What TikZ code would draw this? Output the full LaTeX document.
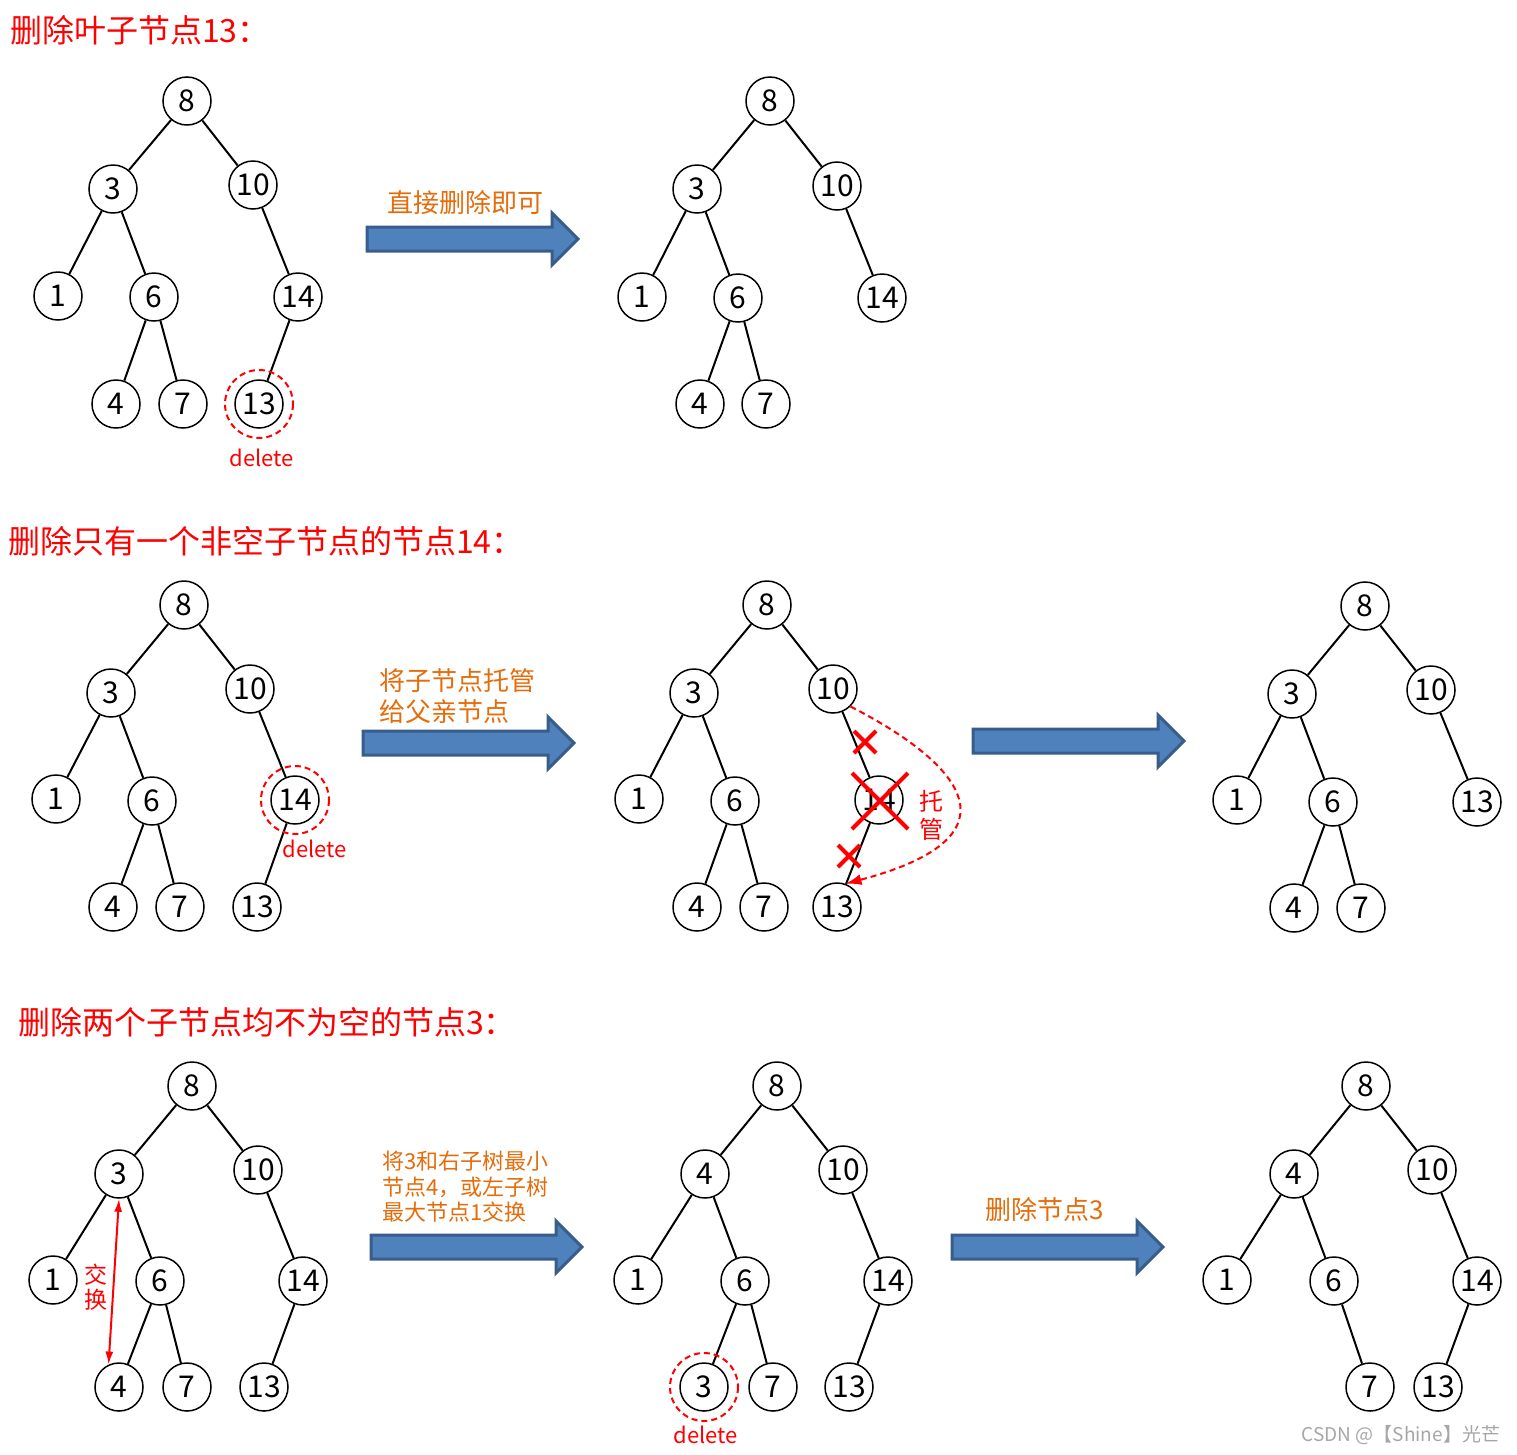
\documentclass[tikz,border=0pt]{standalone}
\usepackage{fontspec}
\setmainfont{Noto Sans CJK SC}
\usetikzlibrary{arrows.meta}
\definecolor{tagorange}{RGB}{228,108,10}
\definecolor{arrowfill}{RGB}{79,129,189}
\definecolor{arrowline}{RGB}{56,93,138}

\tikzset{
  tn/.style={circle,draw,line width=1.5pt,minimum size=48pt,inner sep=0pt,font=\fontsize{30}{30}\selectfont},
  edge/.style={line width=2pt},
  fatarrow/.style={fill=arrowfill,draw=arrowline,line width=3pt,line join=miter},
  title/.style={anchor=west,inner sep=0pt,text=red,font=\fontsize{32}{36}\selectfont},
  tag/.style={text=tagorange,align=left,inner sep=0pt,font=\fontsize{26}{31}\selectfont},
  delring/.style={red,line width=2pt,dash pattern=on 6pt off 4pt},
  deltext/.style={text=red,align=center,inner sep=0pt,font=\fontsize{22}{26}\selectfont},
  cross/.style={red,line width=4pt},
  hand/.style={red,line width=2pt,dash pattern=on 6pt off 4pt,-{Latex[length=16pt,width=11pt]}},
  swap/.style={red,line width=2pt,{Latex[length=13pt,width=8pt]}-{Latex[length=13pt,width=8pt]}},
}

\begin{document}
\begin{tikzpicture}[x=1pt,y=-1pt]
\useasboundingbox (0,0) rectangle (1517,1454);

% titles
\node[title] (t1) at (10,30) {删除叶子节点13：};
\node[title] (t2) at (8,541) {删除只有一个非空子节点的节点14：};
\node[title] (t3) at (18,1022) {删除两个子节点均不为空的节点3：};

% block arrows
\foreach \x/\y in {367/239,363/743,973/741,371/1247,952/1247}
  \draw[fatarrow] (\x,\y-12) -- (\x+185,\y-12) -- (\x+185,\y-26) -- (\x+211,\y)
    -- (\x+185,\y+26) -- (\x+185,\y+12) -- (\x,\y+12) -- cycle;
\node[tag] (l1) at (465,203) {直接删除即可};
\node[tag,anchor=west] (l2) at (379,696) {将子节点托管\\给父亲节点};
\node[tag,anchor=west,font=\fontsize{22}{25.5}\selectfont] (l3) at (382,1187) {将3和右子树最小\\节点4，或左子树\\最大节点1交换};
\node[tag] (l4) at (1045,1210) {删除节点3};

% row 1
\foreach \n/\x/\y in {8/187/101,3/113/189,10/253/185,1/58/296,6/154/297,14/298/297,4/116/404,7/183/404,13/259/404}
  \node[tn] (a\n) at (\x,\y) {\n};
\foreach \p/\c in {8/3,8/10,3/1,3/6,10/14,6/4,6/7,14/13}
  \draw[edge] (a\p) -- (a\c);
\draw[delring] (a13) circle (34);
\node[deltext] (da) at (262,458) {delete};

\foreach \n/\x/\y in {8/770/101,3/697/189,10/837/186,1/642/297,6/738/298,14/882/298,4/700/404,7/766/404}
  \node[tn] (b\n) at (\x,\y) {\n};
\foreach \p/\c in {8/3,8/10,3/1,3/6,10/14,6/4,6/7}
  \draw[edge] (b\p) -- (b\c);

% row 2
\foreach \n/\x/\y in {8/184/605,3/111/693,10/250/689,1/56/799,6/152/801,14/295/800,4/113/907,7/180/907,13/257/907}
  \node[tn] (c\n) at (\x,\y) {\n};
\foreach \p/\c in {8/3,8/10,3/1,3/6,10/14,6/4,6/7,14/13}
  \draw[edge] (c\p) -- (c\c);
\draw[delring] (c14) circle (34);
\node[deltext] (dc) at (315,849) {delete};

\foreach \n/\x/\y in {8/767/605,3/694/693,10/833/689,1/639/799,6/735/801,14/879/800,4/697/907,7/764/907,13/837/907}
  \node[tn] (d\n) at (\x,\y) {\n};
\foreach \p/\c in {8/3,8/10,3/1,3/6,10/14,6/4,6/7,14/13}
  \draw[edge] (d\p) -- (d\c);
\foreach \x/\y/\r in {865/742/11,880/801/28,849/856/11}
  \draw[cross] (\x-\r,\y-\r) -- (\x+\r,\y+\r) (\x-\r,\y+\r) -- (\x+\r,\y-\r);
\draw[hand] (d10.-45) .. controls (955,760) and (1030,835) .. (d13.70);
\node[deltext,font=\fontsize{24}{28}\selectfont] (tg) at (931,815) {托\\管};

\foreach \n/\x/\y in {8/1365/606,3/1292/694,10/1431/690,1/1237/800,6/1333/802,13/1477/802,4/1294/908,7/1361/908}
  \node[tn] (e\n) at (\x,\y) {\n};
\foreach \p/\c in {8/3,8/10,3/1,3/6,10/13,6/4,6/7}
  \draw[edge] (e\p) -- (e\c);

% row 3
\foreach \n/\x/\y in {8/192/1086,3/119/1174,10/258/1170,1/53/1280,6/160/1281,14/303/1281,4/119/1387,7/187/1387,13/264/1387}
  \node[tn] (f\n) at (\x,\y) {\n};
\foreach \p/\c in {8/3,8/10,3/1,3/6,10/14,6/4,6/7,14/13}
  \draw[edge] (f\p) -- (f\c);
\draw[swap] (f3.south) -- (f4.115);
\node[deltext,font=\fontsize{23}{25}\selectfont] (jh) at (96,1287) {交\\换};

\foreach \n/\x/\y in {8/777/1086,4/705/1174,10/843/1170,1/638/1280,6/745/1281,14/888/1281,3/704/1387,7/773/1387,13/849/1387}
  \node[tn] (g\n) at (\x,\y) {\n};
\foreach \p/\c in {8/4,8/10,4/1,4/6,10/14,6/3,6/7,14/13}
  \draw[edge] (g\p) -- (g\c);
\draw[delring] (g3) circle (34);
\node[deltext] (dg) at (706,1435) {delete};

\foreach \n/\x/\y in {8/1366/1086,4/1294/1174,10/1432/1170,1/1227/1280,6/1334/1281,14/1477/1281,7/1370/1387,13/1438/1387}
  \node[tn] (h\n) at (\x,\y) {\n};
\foreach \p/\c in {8/4,8/10,4/1,4/6,10/14,6/7,14/13}
  \draw[edge] (h\p) -- (h\c);

\node[text=gray!70,font=\fontsize{19}{20}\selectfont] (wm) at (1401,1435) {CSDN @【Shine】光芒};
\end{tikzpicture}
\end{document}
